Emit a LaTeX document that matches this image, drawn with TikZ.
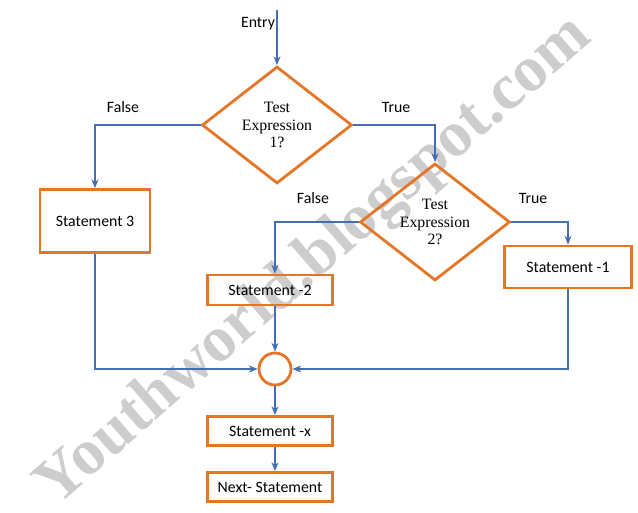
\documentclass[tikz,border=0pt]{standalone}
\usepackage{fontspec}
\setmainfont{Carlito}
\newfontfamily\serifx{Liberation Serif}
\usetikzlibrary{shapes.geometric,arrows.meta}
\definecolor{orng}{RGB}{228,118,40}
\definecolor{blu}{RGB}{70,110,180}
\definecolor{wm}{RGB}{205,205,205}
\begin{document}
\begin{tikzpicture}[x=0.02cm,y=-0.02cm,
 box/.style={draw=orng,line width=1.6pt,inner sep=0,font=\fontsize{9}{10}\selectfont},
 dia/.style={diamond,draw=orng,line width=1.6pt,inner sep=0,minimum width=3cm,minimum height=2.34cm,align=center,font=\serifx\fontsize{9}{10}\selectfont},
 lbl/.style={font=\fontsize{9}{10}\selectfont},
 con/.style={draw=blu,line width=0.6pt,-{Stealth[length=5pt,width=4pt]}}]
\useasboundingbox (0,0) rectangle (638,513);
\node[rotate=41,text=wm,font=\serifx\bfseries\fontsize{37}{37}\selectfont] (wm) at (315,262) {Youthworld.blogspot.com};
\node[lbl] (entry) at (258,24) {Entry};
\coordinate (top) at (277,10);
\node[dia] (d1) at (277,125) {Test\\Expression\\1?};
\node[lbl] (f1) at (123,107) {False};
\node[lbl] (t1) at (396,107) {True};
\node[box,minimum width=2.2cm,minimum height=1.26cm] (s3) at (95,221) {Statement 3};
\node[dia] (d2) at (435,222) {Test\\Expression\\2?};
\node[lbl] (f2) at (313,198) {False};
\node[lbl] (t2) at (533,198) {True};
\node[box,minimum width=2.54cm,minimum height=0.84cm] (s1) at (568,267) {Statement -1};
\node[box,minimum width=2.5cm,minimum height=0.6cm] (s2) at (270,290) {Statement -2};
\node[circle,draw=orng,line width=1.6pt,minimum size=0.64cm,inner sep=0] (c) at (275,369) {};
\node[box,minimum width=2.5cm,minimum height=0.58cm] (sx) at (270,431) {Statement -x};
\node[box,minimum width=2.5cm,minimum height=0.58cm] (ns) at (270,487) {Next- Statement};
\draw[con] (top) -- (d1.north);
\draw[con] (d1.west) -| (s3.north);
\draw[con] (d1.east) -| (d2.north);
\draw[con] (d2.west) -| (s2.north -| c.north);
\draw[con] (d2.east) -| (s1.north);
\draw[con] (s2.south -| c.north) -- (c.north);
\draw[con] (s3.south) |- (c.west);
\draw[con] (s1.south) |- (c.east);
\draw[con] (c.south) -- (sx.north -| c.south);
\draw[con] (sx.south -| c.south) -- (ns.north -| c.south);
\end{tikzpicture}
\end{document}
